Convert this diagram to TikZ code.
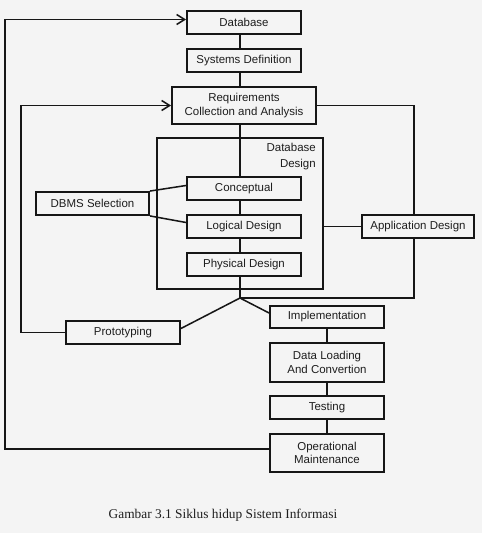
\documentclass[tikz,border=0pt]{standalone}
\usepackage{fontspec}
\setmainfont{Liberation Serif}
\setsansfont{Liberation Sans}
\usetikzlibrary{arrows.meta, positioning, calc}
\definecolor{pagegray}{RGB}{244, 244, 244}
\definecolor{inkdark}{RGB}{22, 22, 22}
\definecolor{textdark}{RGB}{30, 30, 30}
\tikzset{
    box/.style={
        rectangle, minimum width=3.42cm, minimum height=0.69cm,
        draw=inkdark, line width=1.6pt, fill=pagegray, text=textdark,
        font=\sffamily\fontsize{9.8}{11.4}\selectfont, align=center, inner sep=1pt
    },
    tallbox/.style={box, minimum height=1.15cm},
    framebox/.style={rectangle, draw=inkdark, line width=1.5pt, minimum width=4.98cm, minimum height=4.53cm},
    link/.style={draw=inkdark, line width=1.3pt},
    backarrow/.style={link, -{Straight Barb[length=2.4mm, width=3mm, line width=1.3pt]}},
    caption/.style={font=\fontsize{11.4}{13}\selectfont, text=textdark},
}

\begin{document}
\begin{tikzpicture}[x=0.03cm, y=-0.03cm]
        \fill[pagegray] (0,0) rectangle (482,533);
        % design frame first, so the boxes sit on top
        \node[framebox] (dbd) at (240,213.5) {};
        \node[anchor=north east, align=right, text=textdark, inner sep=0pt,
              font=\sffamily\fontsize{9.8}{14}\selectfont] (dbdtitle) at (316,143) {Database\\Design};
        % main column
        \node[box] (db) at (244,22.5) {Database};
        \node[box] (sysdef) at (244,60.5) {Systems Definition};
        \node[box, minimum width=4.32cm, minimum height=1.11cm] (req) at (244,105.5) {Requirements\\Collection and Analysis};
        \node[box] (concept) at (244,188.5) {Conceptual};
        \node[box] (logical) at (244,226.5) {Logical Design};
        \node[box] (physical) at (244,264.5) {Physical Design};
        \node[box, minimum width=3.39cm] (dbms) at (92.5,203.5) {DBMS Selection};
        \node[box, minimum width=3.36cm] (app) at (418,226.5) {Application Design};
        \node[box] (proto) at (123,332.5) {Prototyping};
        \node[box, minimum height=0.66cm] (impl) at (327,317) {Implementation};
        \node[tallbox] (load) at (327,362.5) {Data Loading\\And Convertion};
        \node[box] (test) at (327,407.5) {Testing};
        \node[tallbox] (maint) at (327,453) {Operational\\Maintenance};
        \node[caption] (cap) at (223,515) {Gambar 3.1 Siklus hidup Sistem Informasi};
        % joints
        \coordinate (jn) at (240,298);
        \coordinate (rside) at (414,298);
        \coordinate (inner) at (21,332.5);
        \coordinate (outer) at (5,449);
        % connectors
        \draw[link] (db.south -| jn) -- (sysdef.north -| jn);
        \draw[link] (sysdef.south -| jn) -- (req.north -| jn);
        \draw[link] (req.south -| jn) -- (concept.north -| jn);
        \draw[link] (concept.south -| jn) -- (logical.north -| jn);
        \draw[link] (logical.south -| jn) -- (physical.north -| jn);
        \draw[link] (physical.south -| jn) -- (jn);
        \draw[link] (dbms.north east) -- ($(concept.west)+(0,-3)$);
        \draw[link] (dbms.south east) -- ($(logical.west)+(0,-4)$);
        \draw[link] (app.west -| dbd.east) -- (app.west);
        \draw[link] (req.east) -| (app.north -| rside);
        \draw[link] (app.south -| rside) -- (rside) -- (jn);
        \draw[link] (jn) -- ($(proto.east)+(0,-4)$);
        \draw[link] (jn) -- ($(impl.west)+(0,-4)$);
        \draw[link] (impl.south) -- (load.north);
        \draw[link] (load.south) -- (test.north);
        \draw[link] (test.south) -- (maint.north);
        \draw[backarrow] (proto.west) -- (inner) |- (req.west);
        \draw[backarrow] (maint.west |- outer) -- (outer) |- ($(db.west)+(0,-3)$);
    \end{tikzpicture}
\end{document}
